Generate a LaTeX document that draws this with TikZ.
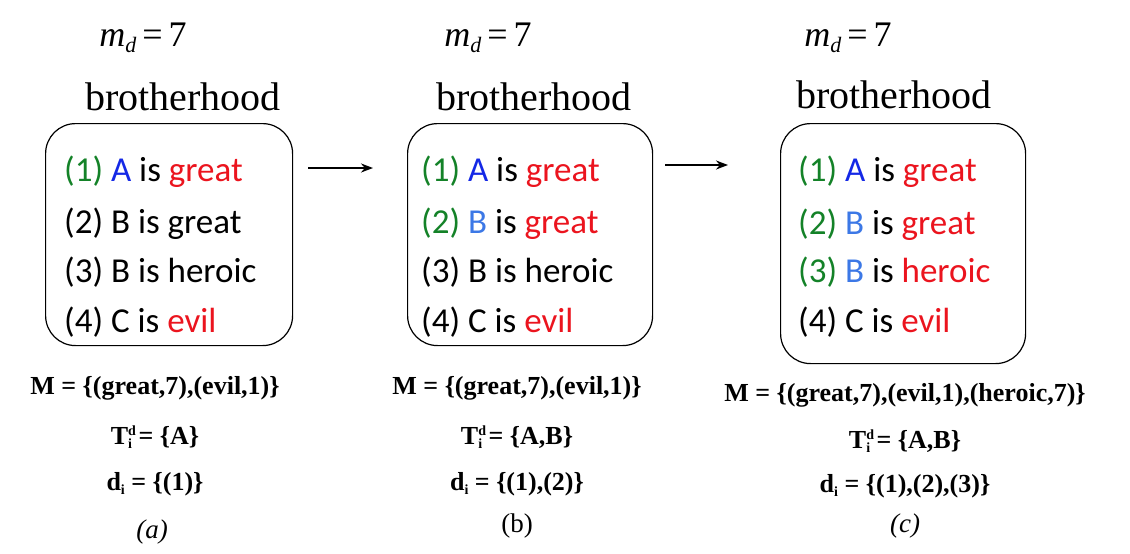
\documentclass[tikz,border=0pt]{standalone}
\usepackage{fontspec}
\setmainfont{Liberation Serif}
\newfontfamily\carlitofont{Carlito}
\usetikzlibrary{arrows.meta}
\newcommand{\mdseven}{\textit{m}\raisebox{-6pt}{\fontsize{22}{22}\selectfont\textit{d}}\,=\,7}
\newcommand{\Tid}{T\rlap{\raisebox{9pt}{\fontsize{14}{14}\selectfont d}}\raisebox{-4pt}{\fontsize{14}{14}\selectfont i}\ }
\newcommand{\di}{d\raisebox{-4pt}{\fontsize{14}{14}\selectfont i}}
\begin{document}
\begin{tikzpicture}[x=1pt,y=-1pt,
 box/.style={draw,line width=1.2pt,rounded corners=30pt},
 ln/.style={anchor=west,font=\carlitofont\fontsize{35}{35}\selectfont,inner sep=0},
 ttl/.style={font=\fontsize{36}{36}\selectfont,inner sep=0},
 bro/.style={font=\fontsize{40}{40}\selectfont,inner sep=0},
 st/.style={font=\bfseries\fontsize{26}{26}\selectfont,inner sep=0},
 lab/.style={font=\fontsize{27}{27}\selectfont,inner sep=0},
 arr/.style={-{Stealth[length=12pt,width=9pt]},line width=1.8pt}]
\definecolor{g}{RGB}{20,130,40}
\definecolor{b}{RGB}{20,40,230}
\definecolor{lb}{RGB}{60,120,230}
\definecolor{r}{RGB}{235,20,30}
\useasboundingbox (0,0) rectangle (1130,554);
\foreach \n/\cx/\bx/\bw/\bh in {a/143/45/247/222, b/488/407/245/222, c/848/780/245/240}{
 \node[ttl] (m\n) at (\cx,38) {\mdseven};
}
\node[bro] (ha) at (183,97) {brotherhood};
\node[bro] (hb) at (534,97) {brotherhood};
\node[bro] (hc) at (894,95) {brotherhood};
\node[box,minimum width=247,minimum height=222,anchor=north west] (boxa) at (45,123) {};
\node[box,minimum width=245,minimum height=222,anchor=north west] (boxb) at (407,123) {};
\node[box,minimum width=245,minimum height=240,anchor=north west] (boxc) at (780,123) {};
% box a
\node[ln] (a1) at (64,172) {\textcolor{g}{(1)} \textcolor{b}{A} is \textcolor{r}{great}};
\node[ln] (a2) at (64,224) {(2) B is great};
\node[ln] (a3) at (64,272) {(3) B is heroic};
\node[ln] (a4) at (64,322) {(4) C is \textcolor{r}{evil}};
% box b
\node[ln] (b1) at (421,172) {\textcolor{g}{(1)} \textcolor{b}{A} is \textcolor{r}{great}};
\node[ln] (b2) at (421,224) {\textcolor{g}{(2)} \textcolor{lb}{B} is \textcolor{r}{great}};
\node[ln] (b3) at (421,272) {(3) B is heroic};
\node[ln] (b4) at (421,322) {(4) C is \textcolor{r}{evil}};
% box c
\node[ln] (c1) at (798,172) {\textcolor{g}{(1)} \textcolor{b}{A} is \textcolor{r}{great}};
\node[ln] (c2) at (798,225) {\textcolor{g}{(2)} \textcolor{lb}{B} is \textcolor{r}{great}};
\node[ln] (c3) at (798,272) {\textcolor{g}{(3)} \textcolor{lb}{B} is \textcolor{r}{heroic}};
\node[ln] (c4) at (798,322) {(4) C is \textcolor{r}{evil}};
\coordinate (p1) at (308,168); \coordinate (q1) at (373,168);
\coordinate (p2) at (665,165); \coordinate (q2) at (728,165);
\draw[arr] (p1) -- (q1);
\draw[arr] (p2) -- (q2);
\node[st] (Ma) at (155,388) {M = \{(great,7),(evil,1)\}};
\node[st] (Ta) at (155,437) {\Tid= \{A\}};
\node[st] (da) at (155,484) {\di\ = \{(1)\}};
\node[st] (Mb) at (517,388) {M = \{(great,7),(evil,1)\}};
\node[st] (Tb) at (517,437) {\Tid= \{A,B\}};
\node[st] (db) at (517,484) {\di\ = \{(1),(2)\}};
\node[st] (Mc) at (905,395) {M = \{(great,7),(evil,1),(heroic,7)\}};
\node[st] (Tc) at (905,441) {\Tid= \{A,B\}};
\node[st] (dc) at (905,486) {\di\ = \{(1),(2),(3)\}};
\node[lab] (la) at (152,532) {\textit{(a)}};
\node[lab] (lb) at (517,526) {(b)};
\node[lab] (lc) at (905,526) {\textit{(c)}};
\end{tikzpicture}
\end{document}
